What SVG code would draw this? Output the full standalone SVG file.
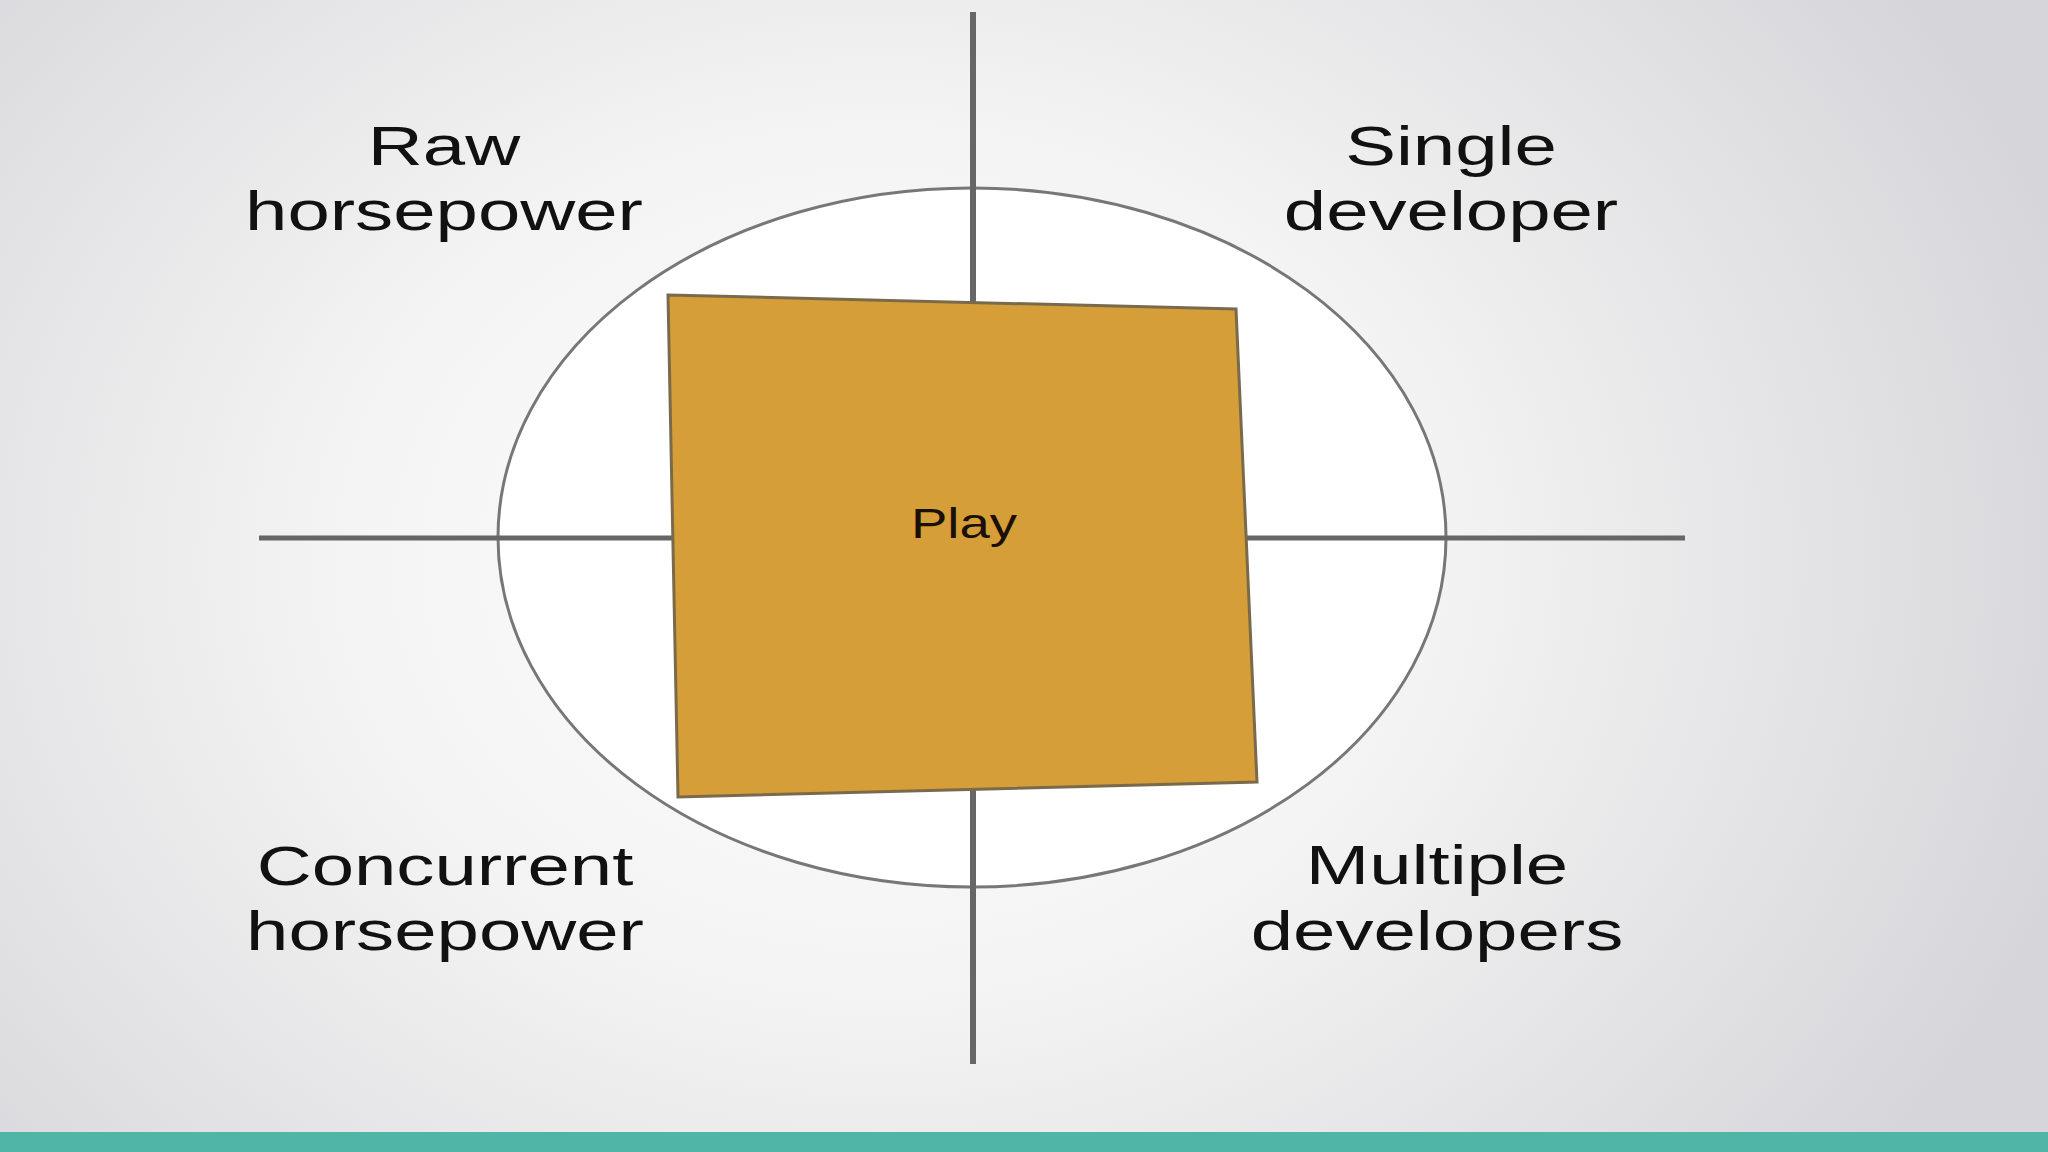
<svg xmlns="http://www.w3.org/2000/svg" width="2048" height="1152" viewBox="0 0 2048 1152">
  <defs>
    <radialGradient id="bg" cx="880" cy="560" r="1250" gradientUnits="userSpaceOnUse" gradientTransform="translate(880 560) scale(1 0.8) translate(-880 -560)">
      <stop offset="0" stop-color="#ffffff"/>
      <stop offset="0.45" stop-color="#f3f3f3"/>
      <stop offset="1" stop-color="#d6d5d9"/>
    </radialGradient>
    <style>
      .axis { stroke: #666666; stroke-width: 5; fill: none; }
      .label { font-family: "Liberation Sans", Arial, sans-serif; font-size: 56px; fill: #111111; text-anchor: middle; }
      .play { font-family: "Liberation Sans", Arial, sans-serif; font-size: 42px; fill: #1a1008; text-anchor: middle; }
    </style>
  </defs>
  <rect x="0" y="0" width="2048" height="1152" fill="url(#bg)"/>
  <rect x="0" y="1132" width="2048" height="20" fill="#50b4a6"/>

  <g id="circle">
    <ellipse cx="972" cy="537.5" rx="474" ry="349.5" fill="#ffffff" stroke="#777777" stroke-width="3"/>
  </g>

  <g id="connectors">
    <line class="axis" x1="973" y1="12" x2="973" y2="1064" style="stroke-width:6"/>
    <line class="axis" x1="259" y1="538" x2="1685" y2="538"/>
  </g>

  <g id="play">
    <polygon points="668,295 1236,309 1257,782 678,797" fill="#d69e38" stroke="#7a6a4c" stroke-width="3" stroke-linejoin="miter"/>
    <g transform="translate(964,0) scale(1.3,1)">
      <text class="play" x="0" y="538">Play</text>
    </g>
  </g>

  <g id="raw-horsepower" transform="translate(444,0) scale(1.36,1)">
    <text class="label" x="0" y="165">Raw</text>
    <text class="label" x="0" y="230">horsepower</text>
  </g>

  <g id="single-developer" transform="translate(1451,0) scale(1.36,1)">
    <text class="label" x="0" y="165">Single</text>
    <text class="label" x="0" y="230">developer</text>
  </g>

  <g id="concurrent-horsepower" transform="translate(445,0) scale(1.36,1)">
    <text class="label" x="0" y="885">Concurrent</text>
    <text class="label" x="0" y="950">horsepower</text>
  </g>

  <g id="multiple-developers" transform="translate(1437,0) scale(1.36,1)">
    <text class="label" x="0" y="884">Multiple</text>
    <text class="label" x="0" y="950">developers</text>
  </g>
</svg>
